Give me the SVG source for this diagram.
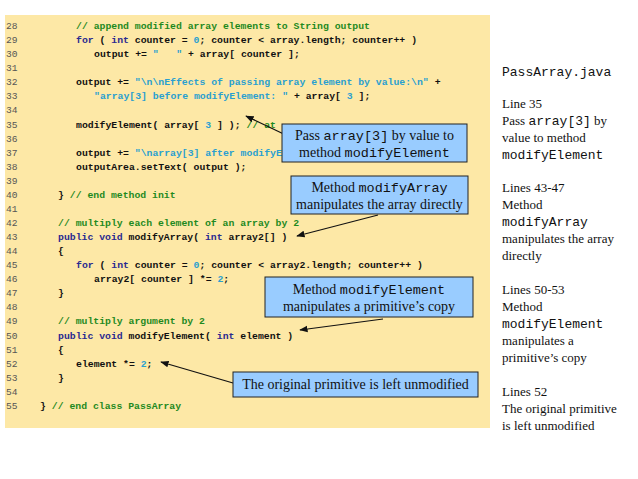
<svg xmlns="http://www.w3.org/2000/svg" width="638" height="479" viewBox="0 0 638 479">
<style>
.c{font-family:"Liberation Mono",monospace;font-size:9.8px;font-weight:bold;fill:#111}
.n{font-family:"Liberation Mono",monospace;font-size:9.6px;fill:#555}
.k{fill:#2a2a90}.s{fill:#2a9fd0}.g{fill:#1f8a1f}.num{fill:#2a9fd0}
.box{fill:#99ccff;stroke:#222;stroke-width:1}
.bt{font-family:"Liberation Serif",serif;font-size:14px;fill:#111;text-anchor:middle}
text .bm,text.bm{font-family:"Liberation Mono",monospace}
.bt .bm{font-size:13.5px}
.r{font-family:"Liberation Serif",serif;font-size:13px;fill:#111}
text.r.bm{font-family:"Liberation Mono",monospace}
.a{stroke:#111;stroke-width:1.2;fill:none;marker-end:url(#ah)}
</style>
<defs><marker id="ah" viewBox="0 0 10 10" refX="9" refY="5" markerWidth="7" markerHeight="7" orient="auto"><path d="M0,1 L10,5 L0,9 z" fill="#111"/></marker></defs>
<rect width="638" height="479" fill="#fff"/>
<rect x="5" y="15" width="485" height="413" fill="#fde8a6"/>
<g id="code">
<text class="n" x="6" y="29">28</text><text class="c g" x="76" y="29">// append modified array elements to String output</text>
<text class="n" x="6" y="43">29</text><text class="c" x="76" y="43"><tspan class="k">for</tspan> ( <tspan class="k">int</tspan> counter = <tspan class="num">0</tspan>; counter &lt; array.length; counter++ )</text>
<text class="n" x="6" y="57">30</text><text class="c" x="94" y="57" xml:space="preserve">output += <tspan class="s">"   "</tspan> + array[ counter ];</text>
<text class="n" x="6" y="71">31</text>
<text class="n" x="6" y="85">32</text><text class="c" x="76" y="85">output += <tspan class="s">"\n\nEffects of passing array element by value:\n"</tspan> +</text>
<text class="n" x="6" y="99">33</text><text class="c" x="94" y="99"><tspan class="s">"array[3] before modifyElement: "</tspan> + array[ <tspan class="num">3</tspan> ];</text>
<text class="n" x="6" y="113">34</text>
<text class="n" x="6" y="128">35</text><text class="c" x="76" y="128">modifyElement( array[ <tspan class="num">3</tspan> ] ); <tspan class="g">// at</tspan></text>
<text class="n" x="6" y="142">36</text>
<text class="n" x="6" y="156">37</text><text class="c" x="76" y="156">output += <tspan class="s">"\narray[3] after modifyE</tspan></text>
<text class="n" x="6" y="170">38</text><text class="c" x="76" y="170">outputArea.setText( output );</text>
<text class="n" x="6" y="184">39</text>
<text class="n" x="6" y="198">40</text><text class="c" x="58" y="198">} <tspan class="g">// end method init</tspan></text>
<text class="n" x="6" y="212">41</text>
<text class="n" x="6" y="226">42</text><text class="c g" x="58" y="226">// multiply each element of an array by 2</text>
<text class="n" x="6" y="240">43</text><text class="c" x="58" y="240"><tspan class="k">public void</tspan> modifyArray( <tspan class="k">int</tspan> array2[] )</text>
<text class="n" x="6" y="254">44</text><text class="c" x="58" y="254">{</text>
<text class="n" x="6" y="268">45</text><text class="c" x="76" y="268"><tspan class="k">for</tspan> ( <tspan class="k">int</tspan> counter = <tspan class="num">0</tspan>; counter &lt; array2.length; counter++ )</text>
<text class="n" x="6" y="282">46</text><text class="c" x="94" y="282">array2[ counter ] *= <tspan class="num">2</tspan>;</text>
<text class="n" x="6" y="296">47</text><text class="c" x="58" y="296">}</text>
<text class="n" x="6" y="310">48</text>
<text class="n" x="6" y="324">49</text><text class="c g" x="58" y="324">// multiply argument by 2</text>
<text class="n" x="6" y="339">50</text><text class="c" x="58" y="339"><tspan class="k">public void</tspan> modifyElement( <tspan class="k">int</tspan> element )</text>
<text class="n" x="6" y="353">51</text><text class="c" x="58" y="353">{</text>
<text class="n" x="6" y="367">52</text><text class="c" x="76" y="367">element *= <tspan class="num">2</tspan>;</text>
<text class="n" x="6" y="381">53</text><text class="c" x="58" y="381">}</text>
<text class="n" x="6" y="395">54</text>
<text class="n" x="6" y="409">55</text><text class="c" x="40" y="409">} <tspan class="g">// end class PassArray</tspan></text>
</g>
<g id="connectors">
<line class="a" x1="290" y1="137" x2="246" y2="116"/>
<line class="a" x1="378" y1="215" x2="297" y2="236"/>
<line class="a" x1="383" y1="319" x2="300" y2="330"/>
<line class="a" x1="233" y1="383" x2="161" y2="362"/>
</g>
<g id="callout1"><rect class="box" x="282" y="124" width="185" height="38"/>
<text class="bt" x="374.5" y="140">Pass <tspan class="bm">array[3]</tspan> by value to</text>
<text class="bt" x="374.5" y="157">method <tspan class="bm">modifyElement</tspan></text></g>
<g id="callout2"><rect class="box" x="291" y="176" width="177" height="38"/>
<text class="bt" x="379.5" y="192">Method <tspan class="bm">modifyArray</tspan></text>
<text class="bt" x="379.5" y="209">manipulates the array directly</text></g>
<g id="callout3"><rect class="box" x="265" y="277" width="208" height="40"/>
<text class="bt" x="369" y="294">Method <tspan class="bm">modifyElement</tspan></text>
<text class="bt" x="369" y="311">manipulates a primitive’s copy</text></g>
<g id="callout4"><rect class="box" x="233" y="372" width="245" height="25"/>
<text class="bt" x="355.5" y="389">The original primitive is left unmodified</text></g>
<g id="notes">
<text class="r bm" x="502" y="76">PassArray.java</text>
<text class="r" x="502" y="108">Line 35</text>
<text class="r" x="502" y="125">Pass <tspan class="bm">array[3]</tspan> by</text>
<text class="r" x="502" y="142">value to method</text>
<text class="r bm" x="502" y="159">modifyElement</text>
<text class="r" x="502" y="192">Lines 43-47</text>
<text class="r" x="502" y="209">Method</text>
<text class="r bm" x="502" y="226">modifyArray</text>
<text class="r" x="502" y="243">manipulates the array</text>
<text class="r" x="502" y="260">directly</text>
<text class="r" x="502" y="294">Lines 50-53</text>
<text class="r" x="502" y="311">Method</text>
<text class="r bm" x="502" y="328">modifyElement</text>
<text class="r" x="502" y="345">manipulates a</text>
<text class="r" x="502" y="362">primitive’s copy</text>
<text class="r" x="502" y="396">Lines 52</text>
<text class="r" x="502" y="413">The original primitive</text>
<text class="r" x="502" y="430">is left unmodified</text>
</g>
</svg>
